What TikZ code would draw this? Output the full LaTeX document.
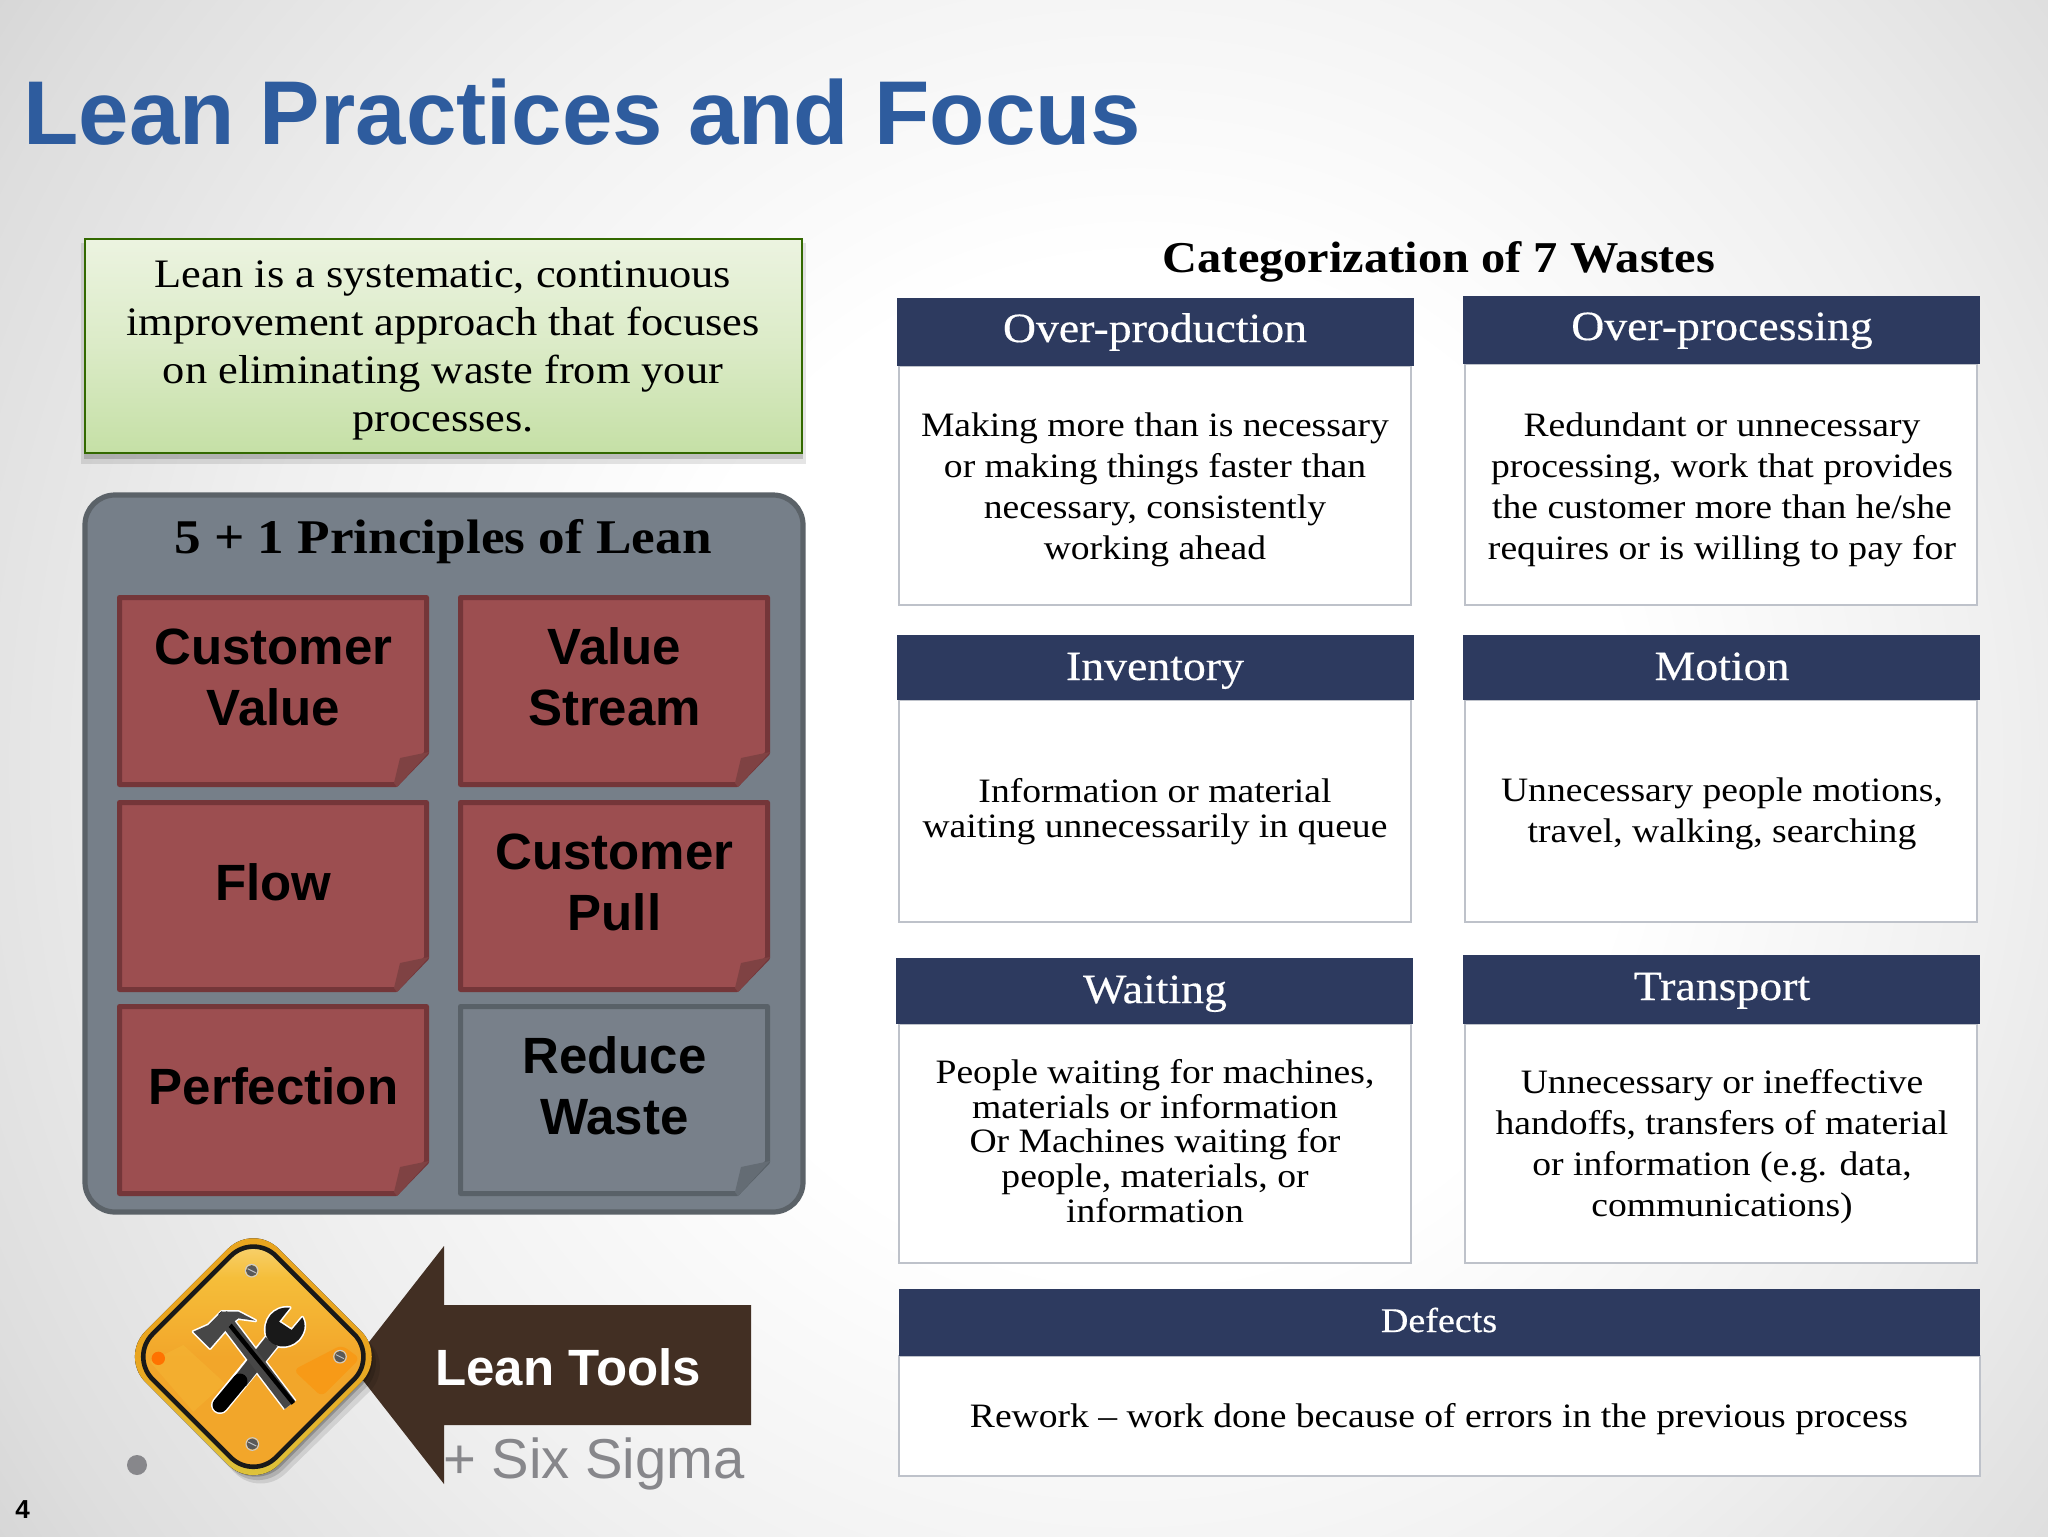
\documentclass[tikz,border=0pt]{standalone}
\usepackage{fontspec}
\setmainfont[FakeStretch=1.1]{Liberation Serif}
\setsansfont{Liberation Sans}
\newfontfamily\hdrfont[FakeStretch=1.1,FakeBold=0.4]{Liberation Serif}
\definecolor{navy}{HTML}{2D3A5F}
\definecolor{titleblue}{HTML}{2E5C9E}
\definecolor{panelfill}{HTML}{767F89}
\definecolor{paneledge}{HTML}{5B6268}
\definecolor{notered}{HTML}{9C4E50}
\definecolor{edgered}{HTML}{743639}
\definecolor{foldred}{HTML}{7F4243}
\definecolor{notegray}{HTML}{78808A}
\definecolor{edgegray}{HTML}{596168}
\definecolor{foldgray}{HTML}{646C74}
\definecolor{arrowbrown}{HTML}{422F23}
\definecolor{bodyedge}{HTML}{BEC2CA}
\definecolor{sigmagray}{HTML}{87878B}
\definecolor{signlow}{HTML}{F2A62A}
\definecolor{signmid}{HTML}{F5BE3A}
\definecolor{signbot}{HTML}{F4CF5A}
\definecolor{signhigh}{HTML}{FBEBB5}
\definecolor{rimtop}{HTML}{E9A51F}
\definecolor{rimbot}{HTML}{DCC63E}
\pgfdeclareradialshading{bgs}{\pgfpoint{3bp}{0bp}}{
 color(0bp)=(white);
 color(10bp)=(white);
 color(18bp)=(black!6!white);
 color(25bp)=(black!13!white);
 color(31bp)=(black!21!white);
 color(50bp)=(black!21!white)}
\pgfdeclareverticalshading{signs}{100bp}{
 color(0bp)=(signbot);
 color(12bp)=(signlow);
 color(50bp)=(signlow);
 color(66bp)=(signmid);
 color(82bp)=(signhigh);
 color(100bp)=(white)}
\tikzset{
 bodybox/.style={fill=white,draw=bodyedge,line width=.8pt},
 bodytext/.style={align=center,inner sep=0pt,font=\fontsize{17.1}{#1}\selectfont},
 boldsans/.style={align=center,inner sep=0pt,font=\sffamily\bfseries\fontsize{25.5}{30.5}\selectfont},
 plainlabel/.style={inner sep=0pt,anchor=base},
 hdr/.style={inner sep=0pt,anchor=base,text=white,font=\hdrfont\fontsize{20.8}{25}\selectfont}
}
\newcommand{\notebox}[6]{%
 \begin{scope}[shift={(#1,#2)}]
  \draw[fill=#3,draw=#4,line width=2.5pt,line join=round]
    (2.5,2.5)--(309.5,2.5)--(309.5,158)--(279,189.5)--(2.5,189.5)--cycle;
  \fill[#5] (312,157)--(283,163)--(277,188)--(280,192)--cycle;
  \node[boldsans] (#6) at (156.5,82) {\NoteText};
 \end{scope}}
\begin{document}
\begin{tikzpicture}[x=.5pt,y=-.5pt]
\useasboundingbox (0,0) rectangle (2048,1536);
\clip (0,0) rectangle (2048,1536);
\fill[shading=bgs] (-200,-500) rectangle (2248,2036);
% title
\node[plainlabel,anchor=base west,font=\sffamily\bfseries\fontsize{45.3}{50}\selectfont,text=titleblue] (title) at (23,144) {Lean Practices and Focus};
% green box
\fill[black,opacity=.10] (81,243) rectangle (806,464);
\fill[black,opacity=.16] (84,245) rectangle (803,459);
\draw[draw=green!35!black!60!olive,top color=green!25!olive!12!white,bottom color=green!30!olive!35!white,middle color=green!28!olive!22!white,line width=1.3pt] (85,239) rectangle (802,453);
\node[align=center,inner sep=0pt,font=\fontsize{20.2}{24}\selectfont] (intro) at (443,350) {Lean is a systematic, continuous\\improvement approach that focuses\\on eliminating waste from your\\processes.};
% principles panel
\draw[fill=panelfill,draw=paneledge,line width=2.6pt,rounded corners=15pt] (85,495) rectangle (803,1212);
\node[plainlabel,font=\bfseries\fontsize{24.2}{28}\selectfont] (ptitle) at (443,553) {5 + 1 Principles of Lean};
\def\NoteText{Customer\\Value}\notebox{117}{595}{notered}{edgered}{foldred}{n1}
\def\NoteText{Value\\Stream}\notebox{458}{595}{notered}{edgered}{foldred}{n2}
\def\NoteText{Flow}\notebox{117}{800}{notered}{edgered}{foldred}{n3}
\def\NoteText{Customer\\Pull}\notebox{458}{800}{notered}{edgered}{foldred}{n4}
\def\NoteText{Perfection}\notebox{117}{1004}{notered}{edgered}{foldred}{n5}
\def\NoteText{Reduce\\Waste}\notebox{458}{1004}{notegray}{edgegray}{foldgray}{n6}
% arrow
\fill[arrowbrown] (351,1365)--(444,1246)--(444,1305)--(751,1305)--(751,1425)--(444,1425)--(444,1484)--cycle;
\node[plainlabel,anchor=base west,text=white,font=\sffamily\bfseries\fontsize{25.5}{30}\selectfont] (tools) at (435,1385) {Lean Tools};
\node[plainlabel,anchor=base west,text=sigmagray,font=\sffamily\fontsize{28.1}{32}\selectfont] (sigma) at (443,1478) {+ Six Sigma};
\fill[sigmagray] (137,1465) circle (10);
\node[plainlabel,anchor=base west,font=\sffamily\bfseries\fontsize{13}{15}\selectfont] (page) at (15,1518) {4};
% icon
\begin{scope}[shift={(125,1230)},x=.16667pt,y=-.16667pt]
 \fill[black,opacity=.10,rounded corners=18pt] (405,25)--(810,410)--(405,805)--(15,410)--cycle;
 \fill[black,opacity=.14,rounded corners=18pt] (398,15)--(798,398)--(398,795)--(8,398)--cycle;
 \fill[black,opacity=.20,rounded corners=18pt] (392,5)--(788,388)--(392,785)--(2,388)--cycle;
 \fill[top color=rimtop,bottom color=rimbot,middle color=rimtop,rounded corners=18pt] (385,-20)--(785,380)--(385,780)--(-15,380)--cycle;
 \fill[shading=signs,rounded corners=16pt] (385,10)--(755,380)--(385,750)--(15,380)--cycle;
 \fill[orange!90!yellow,opacity=.45,rounded corners=3pt] (505,420)--(650,345)--(705,385)--(590,500)--cycle;
 \fill[signmid,opacity=.35] (75,395)--(175,345)--(300,460)--(205,545)--cycle;
 \draw[black!90,line width=2.3pt,rounded corners=16pt] (385,10)--(755,380)--(385,750)--(15,380)--cycle;
 \foreach \sx/\sy in {380/122,645/380,382/642}
   {\fill[black!65] (\sx,\sy) circle (17); \draw[white!60!gray,line width=.5pt] (\sx,\sy) circle (19); \draw[black!25,line width=.5pt] (\sx-12,\sy-6)--(\sx+12,\sy+6);}
 \fill[orange!70!red!85!yellow] (100,385) circle (20);
 % white halo
 \begin{scope}[white,line width=1.6pt,line join=round]
  \draw[line width=9pt,line cap=round] (285,525)--(440,335);
  \draw (495,233) .. controls (445,228) and (412,270) .. (424,318) .. controls (440,355) and (490,360) .. (520,330) .. controls (538,310) and (545,285) .. (532,262) -- (500,300) -- (462,275) -- cycle;
  \draw[line width=8pt] (290,255)--(495,525);
  \draw (205,305)--(250,285)--(290,245)--(340,245)--(392,272)--(340,265)--(320,280)--(255,355)--cycle;
 \end{scope}
 % wrench
 \draw[black!75,line width=7.5pt] (345,455)--(440,335);
 \draw[black,line width=7.5pt,line cap=round] (285,525)--(345,453);
 \fill[black!90] (495,233) .. controls (445,228) and (412,270) .. (424,318) .. controls (440,355) and (490,360) .. (520,330) .. controls (538,310) and (545,285) .. (532,262) -- (500,300) -- (462,275) -- cycle;
 % hammer
 \draw[black!72,line width=6.5pt] (290,255)--(495,525);
 \draw[black,line width=2.2pt] (285,248)--(505,520);
 \fill[black!72] (205,305)--(250,285)--(290,245)--(340,245)--(392,272)--(340,265)--(320,280)--(255,355)--cycle;
\end{scope}
% heading
\node[plainlabel,font=\bfseries\fontsize{22}{26}\selectfont] (cats) at (1439,272) {Categorization of 7 Wastes};
% wastes: bodies
\draw[bodybox] (899,366) rectangle (1411,605);
\draw[bodybox] (1465,364) rectangle (1977,605);
\draw[bodybox] (899,700) rectangle (1411,922);
\draw[bodybox] (1465,700) rectangle (1977,922);
\draw[bodybox] (899,1024) rectangle (1411,1263);
\draw[bodybox] (1465,1024) rectangle (1977,1263);
\draw[bodybox] (899,1356) rectangle (1980,1476);
% wastes: headers
\fill[navy] (897,298) rectangle (1414,366);
\fill[navy] (1463,296) rectangle (1980,364);
\fill[navy] (897,635) rectangle (1414,700);
\fill[navy] (1463,635) rectangle (1980,700);
\fill[navy] (896,958) rectangle (1413,1024);
\fill[navy] (1463,955) rectangle (1980,1024);
\fill[navy] (899,1289) rectangle (1980,1356);
\node[hdr] (h1) at (1155,342) {Over-production};
\node[hdr] (h2) at (1722,340) {Over-processing};
\node[hdr] (h3) at (1155,680) {Inventory};
\node[hdr] (h4) at (1722,680) {Motion};
\node[hdr] (h5) at (1155,1003) {Waiting};
\node[hdr] (h6) at (1722,1000) {Transport};
\node[hdr,font=\hdrfont\fontsize{17.3}{20}\selectfont] (h7) at (1439,1332) {Defects};
\node[bodytext=20.5pt] (b1) at (1155,490) {Making more than is necessary\\or making things faster than\\necessary, consistently\\working ahead};
\node[bodytext=20.5pt] (b2) at (1722,490) {Redundant or unnecessary\\processing, work that provides\\the customer more than he/she\\requires or is willing to pay for};
\node[bodytext=17.6pt] (b3) at (1155,812) {Information or material\\waiting unnecessarily in queue};
\node[bodytext=20.5pt] (b4) at (1722,814) {Unnecessary people motions,\\travel, walking, searching};
\node[bodytext=17.4pt] (b5) at (1155,1141) {People waiting for machines,\\materials or information\\Or Machines waiting for\\people, materials, or\\information};
\node[bodytext=20.5pt] (b6) at (1722,1147) {Unnecessary or ineffective\\handoffs, transfers of material\\or information (e.g. data,\\communications)};
\node[bodytext=20.5pt] (b7) at (1439,1419) {Rework -- work done because of errors in the previous process};
\end{tikzpicture}
\end{document}
